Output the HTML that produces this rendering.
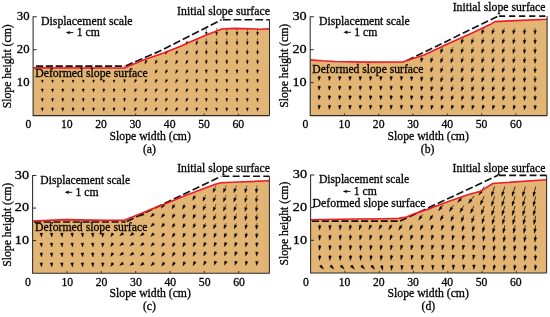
<!DOCTYPE html>
<html><head><meta charset="utf-8"><title>Slope displacement</title>
<style>html,body{margin:0;padding:0;background:#fff}svg{display:block}
text{font-family:"Liberation Serif","Times New Roman",serif;font-size:11.7px;fill:#000;stroke:#000;stroke-width:0.28px}</style></head>
<body><svg width="550" height="317" viewBox="0 0 550 317">
<rect width="550" height="317" fill="#fff"/>
<g><polygon points="33.1,115.6 33.1,67.8 124.2,68 144.1,59.8 163.6,53 180,46.4 190,42.1 207,34.7 221.8,29 234.8,28.4 250,28.8 260.6,29.2 269.5,28.9 269.5,115.6" fill="#e3b574"/>
<g fill="none" stroke="#000" stroke-width="0.45"><path d="M42.3 107.3L42.3 107.9"/><path d="M42.3 97.85L42.3 98.45"/><path d="M42.3 88.4L42.3 89"/><path d="M52.55 107.3L52.55 107.9"/><path d="M52.55 97.85L52.55 98.45"/><path d="M52.55 88.4L52.55 89"/><path d="M62.8 107.3L62.8 107.9"/><path d="M62.8 97.85L62.8 98.45"/><path d="M62.8 88.4L62.8 89"/><path d="M73.05 107.3L73.05 107.9"/><path d="M73.05 97.85L73.05 98.45"/><path d="M73.05 88.4L73.05 89"/><path d="M83.3 107.3L83.3 107.9"/><path d="M83.3 97.85L83.3 98.45"/><path d="M83.3 88.4L83.3 89"/><path d="M93.55 107.3L93.55 107.9"/><path d="M93.55 97.85L93.55 98.45"/><path d="M93.55 88.4L93.55 89"/><path d="M103.8 107.3L103.8 107.9"/><path d="M103.8 97.85L103.8 98.45"/><path d="M103.8 88.4L103.8 89"/><path d="M114.05 107.3L114.05 107.9"/><path d="M114.05 97.85L114.05 98.45"/><path d="M114.05 88.4L114.05 89"/><path d="M124.66 107.17L124.59 107.91"/><path d="M124.66 97.72L124.59 98.46"/><path d="M124.66 88.27L124.59 89.01"/><path d="M136.39 106.99L135.87 108.18"/><path d="M136.39 97.54L135.87 98.73"/><path d="M136.39 88.09L135.87 89.28"/><path d="M136.34 78.76L135.87 79.83"/><path d="M146.93 107.01L146.3 108.26"/><path d="M146.93 97.56L146.3 98.81"/><path d="M146.93 88.11L146.3 89.36"/><path d="M146.93 78.66L146.3 79.91"/><path d="M146.93 59.76L146.3 61.01"/><path d="M157.18 107.01L156.55 108.26"/><path d="M157.18 97.56L156.55 98.81"/><path d="M157.18 88.11L156.55 89.36"/><path d="M157.18 78.66L156.55 79.91"/><path d="M157.18 69.21L156.55 70.46"/><path d="M157.18 59.76L156.55 61.01"/><path d="M167.43 107.01L166.8 108.26"/><path d="M167.43 97.56L166.8 98.81"/><path d="M167.43 88.11L166.8 89.36"/><path d="M167.43 78.66L166.8 79.91"/><path d="M167.43 69.21L166.8 70.46"/><path d="M167.43 59.76L166.8 61.01"/><path d="M167.43 50.31L166.8 51.56"/><path d="M177.68 107.01L177.05 108.26"/><path d="M177.68 97.56L177.05 98.81"/><path d="M177.68 88.11L177.05 89.36"/><path d="M177.68 78.66L177.05 79.91"/><path d="M177.68 69.21L177.05 70.46"/><path d="M177.68 59.76L177.05 61.01"/><path d="M177.68 50.31L177.05 51.56"/><path d="M187.93 107.01L187.3 108.26"/><path d="M187.93 97.56L187.3 98.81"/><path d="M187.93 88.11L187.3 89.36"/><path d="M187.93 78.66L187.3 79.91"/><path d="M187.93 69.21L187.3 70.46"/><path d="M187.93 59.76L187.3 61.01"/><path d="M187.93 50.31L187.3 51.56"/><path d="M187.93 40.86L187.3 42.11"/><path d="M197.21 107.12L196.95 108.03"/><path d="M197.23 97.6L196.95 98.58"/><path d="M197.25 88.09L196.95 89.13"/><path d="M197.27 78.57L196.95 79.68"/><path d="M197.31 68.98L196.95 70.23"/><path d="M197.38 59.28L196.95 60.78"/><path d="M197.46 49.54L196.95 51.33"/><path d="M197.56 39.75L196.95 41.88"/><path d="M206.32 97.99L206.32 98.45"/><path d="M206.32 88.37L206.32 89"/><path d="M206.32 78.75L206.32 79.55"/><path d="M206.32 68.95L206.32 70.1"/><path d="M206.32 58.89L206.32 60.65"/><path d="M206.33 48.7L206.32 51.2"/><path d="M206.33 38.41L206.32 41.75"/><path d="M206.34 28.06L206.32 32.3"/><path d="M216.55 98L216.55 98.45"/><path d="M216.55 88.38L216.55 89"/><path d="M216.55 78.75L216.55 79.55"/><path d="M216.55 68.95L216.55 70.1"/><path d="M216.55 58.88L216.55 60.65"/><path d="M216.55 48.68L216.55 51.2"/><path d="M216.55 38.39L216.55 41.75"/><path d="M216.55 28.03L216.55 32.3"/><path d="M226.8 98L226.8 98.45"/><path d="M226.8 88.38L226.8 89"/><path d="M226.8 78.75L226.8 79.55"/><path d="M226.8 68.95L226.8 70.1"/><path d="M226.8 58.88L226.8 60.65"/><path d="M226.8 48.68L226.8 51.2"/><path d="M226.8 38.39L226.8 41.75"/><path d="M226.8 28.03L226.8 32.3"/><path d="M237.05 98L237.05 98.45"/><path d="M237.05 88.38L237.05 89"/><path d="M237.05 78.75L237.05 79.55"/><path d="M237.05 68.95L237.05 70.1"/><path d="M237.05 58.88L237.05 60.65"/><path d="M237.05 48.68L237.05 51.2"/><path d="M237.05 38.39L237.05 41.75"/><path d="M237.05 28.03L237.05 32.3"/><path d="M247.3 98L247.3 98.45"/><path d="M247.3 88.38L247.3 89"/><path d="M247.3 78.75L247.3 79.55"/><path d="M247.3 68.95L247.3 70.1"/><path d="M247.3 58.88L247.3 60.65"/><path d="M247.3 48.68L247.3 51.2"/><path d="M247.3 38.39L247.3 41.75"/><path d="M247.3 28.03L247.3 32.3"/><path d="M257.55 98L257.55 98.45"/><path d="M257.55 88.38L257.55 89"/><path d="M257.55 78.75L257.55 79.55"/><path d="M257.55 68.95L257.55 70.1"/><path d="M257.55 58.88L257.55 60.65"/><path d="M257.55 48.68L257.55 51.2"/><path d="M257.55 38.39L257.55 41.75"/><path d="M257.55 28.03L257.55 32.3"/></g>
<g fill="#000" stroke="#000" stroke-width="0.3" stroke-linejoin="round"><path d="M42.3 111.2L41.2 107.9L43.4 107.9Z"/><path d="M42.3 101.75L41.2 98.45L43.4 98.45Z"/><path d="M42.3 92.3L41.2 89L43.4 89Z"/><path d="M42.3 82.85L41.3 80.02L43.3 80.02Z"/><path d="M52.55 111.2L51.45 107.9L53.65 107.9Z"/><path d="M52.55 101.75L51.45 98.45L53.65 98.45Z"/><path d="M52.55 92.3L51.45 89L53.65 89Z"/><path d="M52.55 82.85L51.55 80.02L53.55 80.02Z"/><path d="M62.8 111.2L61.7 107.9L63.9 107.9Z"/><path d="M62.8 101.75L61.7 98.45L63.9 98.45Z"/><path d="M62.8 92.3L61.7 89L63.9 89Z"/><path d="M62.8 82.85L61.8 80.02L63.8 80.02Z"/><path d="M73.05 111.2L71.95 107.9L74.15 107.9Z"/><path d="M73.05 101.75L71.95 98.45L74.15 98.45Z"/><path d="M73.05 92.3L71.95 89L74.15 89Z"/><path d="M73.05 82.85L72.05 80.02L74.05 80.02Z"/><path d="M83.3 111.2L82.2 107.9L84.4 107.9Z"/><path d="M83.3 101.75L82.2 98.45L84.4 98.45Z"/><path d="M83.3 92.3L82.2 89L84.4 89Z"/><path d="M83.3 82.85L82.3 80.02L84.3 80.02Z"/><path d="M93.55 111.2L92.45 107.9L94.65 107.9Z"/><path d="M93.55 101.75L92.45 98.45L94.65 98.45Z"/><path d="M93.55 92.3L92.45 89L94.65 89Z"/><path d="M93.55 82.85L92.55 80.02L94.55 80.02Z"/><path d="M103.8 111.2L102.7 107.9L104.9 107.9Z"/><path d="M103.8 101.75L102.7 98.45L104.9 98.45Z"/><path d="M103.8 92.3L102.7 89L104.9 89Z"/><path d="M103.8 82.85L102.8 80.02L104.8 80.02Z"/><path d="M114.05 111.2L112.95 107.9L115.15 107.9Z"/><path d="M114.05 101.75L112.95 98.45L115.15 98.45Z"/><path d="M114.05 92.3L112.95 89L115.15 89Z"/><path d="M114.05 82.85L113.05 80.02L115.05 80.02Z"/><path d="M124.3 111.2L123.5 107.82L125.69 108.01Z"/><path d="M124.3 101.75L123.5 98.37L125.69 98.56Z"/><path d="M124.3 92.3L123.5 88.92L125.69 89.11Z"/><path d="M124.3 82.85L123.51 79.59L125.65 79.78Z"/><path d="M134.55 111.2L134.86 107.74L136.88 108.62Z"/><path d="M134.55 101.75L134.86 98.29L136.88 99.17Z"/><path d="M134.55 92.3L134.86 88.84L136.88 89.72Z"/><path d="M134.55 82.85L134.86 79.39L136.88 80.27Z"/><path d="M144.8 111.2L145.32 107.76L147.28 108.76Z"/><path d="M144.8 101.75L145.32 98.31L147.28 99.31Z"/><path d="M144.8 92.3L145.32 88.86L147.28 89.86Z"/><path d="M144.8 82.85L145.32 79.41L147.28 80.41Z"/><path d="M144.8 63.95L145.32 60.51L147.28 61.51Z"/><path d="M155.05 111.2L155.57 107.76L157.53 108.76Z"/><path d="M155.05 101.75L155.57 98.31L157.53 99.31Z"/><path d="M155.05 92.3L155.57 88.86L157.53 89.86Z"/><path d="M155.05 82.85L155.57 79.41L157.53 80.41Z"/><path d="M155.05 73.4L155.57 69.96L157.53 70.96Z"/><path d="M155.05 63.95L155.57 60.51L157.53 61.51Z"/><path d="M165.3 111.2L165.82 107.76L167.78 108.76Z"/><path d="M165.3 101.75L165.82 98.31L167.78 99.31Z"/><path d="M165.3 92.3L165.82 88.86L167.78 89.86Z"/><path d="M165.3 82.85L165.82 79.41L167.78 80.41Z"/><path d="M165.3 73.4L165.82 69.96L167.78 70.96Z"/><path d="M165.3 63.95L165.82 60.51L167.78 61.51Z"/><path d="M165.3 54.5L165.82 51.06L167.78 52.06Z"/><path d="M175.55 111.2L176.07 107.76L178.03 108.76Z"/><path d="M175.55 101.75L176.07 98.31L178.03 99.31Z"/><path d="M175.55 92.3L176.07 88.86L178.03 89.86Z"/><path d="M175.55 82.85L176.07 79.41L178.03 80.41Z"/><path d="M175.55 73.4L176.07 69.96L178.03 70.96Z"/><path d="M175.55 63.95L176.07 60.51L178.03 61.51Z"/><path d="M175.55 54.5L176.07 51.06L178.03 52.06Z"/><path d="M185.8 111.2L186.32 107.76L188.28 108.76Z"/><path d="M185.8 101.75L186.32 98.31L188.28 99.31Z"/><path d="M185.8 92.3L186.32 88.86L188.28 89.86Z"/><path d="M185.8 82.85L186.32 79.41L188.28 80.41Z"/><path d="M185.8 73.4L186.32 69.96L188.28 70.96Z"/><path d="M185.8 63.95L186.32 60.51L188.28 61.51Z"/><path d="M185.8 54.5L186.32 51.06L188.28 52.06Z"/><path d="M185.8 45.05L186.32 41.61L188.28 42.61Z"/><path d="M196.05 111.2L195.89 107.72L198.01 108.33Z"/><path d="M196.05 101.75L195.89 98.27L198.01 98.88Z"/><path d="M196.05 92.3L195.89 88.82L198.01 89.43Z"/><path d="M196.05 82.85L195.89 79.37L198.01 79.98Z"/><path d="M196.05 73.4L195.89 69.92L198.01 70.53Z"/><path d="M196.05 63.95L195.89 60.47L198.01 61.08Z"/><path d="M196.05 54.5L195.89 51.02L198.01 51.63Z"/><path d="M196.05 45.05L195.89 41.57L198.01 42.18Z"/><path d="M206.3 111.2L205.22 107.89L207.42 107.91Z"/><path d="M206.3 101.75L205.22 98.44L207.42 98.46Z"/><path d="M206.3 92.3L205.22 88.99L207.42 89.01Z"/><path d="M206.3 82.85L205.22 79.54L207.42 79.56Z"/><path d="M206.3 73.4L205.22 70.09L207.42 70.11Z"/><path d="M206.3 63.95L205.22 60.64L207.42 60.66Z"/><path d="M206.3 54.5L205.22 51.19L207.42 51.21Z"/><path d="M206.3 45.05L205.22 41.74L207.42 41.76Z"/><path d="M206.3 35.6L205.22 32.29L207.42 32.31Z"/><path d="M216.55 111.2L215.45 107.9L217.65 107.9Z"/><path d="M216.55 101.75L215.45 98.45L217.65 98.45Z"/><path d="M216.55 92.3L215.45 89L217.65 89Z"/><path d="M216.55 82.85L215.45 79.55L217.65 79.55Z"/><path d="M216.55 73.4L215.45 70.1L217.65 70.1Z"/><path d="M216.55 63.95L215.45 60.65L217.65 60.65Z"/><path d="M216.55 54.5L215.45 51.2L217.65 51.2Z"/><path d="M216.55 45.05L215.45 41.75L217.65 41.75Z"/><path d="M216.55 35.6L215.45 32.3L217.65 32.3Z"/><path d="M226.8 111.2L225.7 107.9L227.9 107.9Z"/><path d="M226.8 101.75L225.7 98.45L227.9 98.45Z"/><path d="M226.8 92.3L225.7 89L227.9 89Z"/><path d="M226.8 82.85L225.7 79.55L227.9 79.55Z"/><path d="M226.8 73.4L225.7 70.1L227.9 70.1Z"/><path d="M226.8 63.95L225.7 60.65L227.9 60.65Z"/><path d="M226.8 54.5L225.7 51.2L227.9 51.2Z"/><path d="M226.8 45.05L225.7 41.75L227.9 41.75Z"/><path d="M226.8 35.6L225.7 32.3L227.9 32.3Z"/><path d="M237.05 111.2L235.95 107.9L238.15 107.9Z"/><path d="M237.05 101.75L235.95 98.45L238.15 98.45Z"/><path d="M237.05 92.3L235.95 89L238.15 89Z"/><path d="M237.05 82.85L235.95 79.55L238.15 79.55Z"/><path d="M237.05 73.4L235.95 70.1L238.15 70.1Z"/><path d="M237.05 63.95L235.95 60.65L238.15 60.65Z"/><path d="M237.05 54.5L235.95 51.2L238.15 51.2Z"/><path d="M237.05 45.05L235.95 41.75L238.15 41.75Z"/><path d="M237.05 35.6L235.95 32.3L238.15 32.3Z"/><path d="M247.3 111.2L246.2 107.9L248.4 107.9Z"/><path d="M247.3 101.75L246.2 98.45L248.4 98.45Z"/><path d="M247.3 92.3L246.2 89L248.4 89Z"/><path d="M247.3 82.85L246.2 79.55L248.4 79.55Z"/><path d="M247.3 73.4L246.2 70.1L248.4 70.1Z"/><path d="M247.3 63.95L246.2 60.65L248.4 60.65Z"/><path d="M247.3 54.5L246.2 51.2L248.4 51.2Z"/><path d="M247.3 45.05L246.2 41.75L248.4 41.75Z"/><path d="M247.3 35.6L246.2 32.3L248.4 32.3Z"/><path d="M257.55 111.2L256.45 107.9L258.65 107.9Z"/><path d="M257.55 101.75L256.45 98.45L258.65 98.45Z"/><path d="M257.55 92.3L256.45 89L258.65 89Z"/><path d="M257.55 82.85L256.45 79.55L258.65 79.55Z"/><path d="M257.55 73.4L256.45 70.1L258.65 70.1Z"/><path d="M257.55 63.95L256.45 60.65L258.65 60.65Z"/><path d="M257.55 54.5L256.45 51.2L258.65 51.2Z"/><path d="M257.55 45.05L256.45 41.75L258.65 41.75Z"/><path d="M257.55 35.6L256.45 32.3L258.65 32.3Z"/></g>
<polyline points="36,66.1 125,66.1" fill="none" stroke="#111" stroke-width="1.65" stroke-dasharray="7.2 2.65"/>
<polyline points="125.6,65.9 160,51 221.5,19.7" fill="none" stroke="#111" stroke-width="1.65" stroke-dasharray="7.6 2.9"/>
<polyline points="222.8,19.7 269.5,19.7" fill="none" stroke="#111" stroke-width="1.65" stroke-dasharray="7.8 3.05"/>
<polyline points="33.1,67.8 124.2,68 144.1,59.8 163.6,53 180,46.4 190,42.1 207,34.7 221.8,29 234.8,28.4 250,28.8 260.6,29.2 269.5,28.9" fill="none" stroke="#ee1c25" stroke-width="1.65" stroke-linejoin="round"/>
<path d="M36.8 16.7H33.1V115.6H269.5M269.5 115.6V19.7" fill="none" stroke="#2b2b2b" stroke-width="1.05"/>
<line x1="33.1" y1="49.67" x2="36.6" y2="49.67" stroke="#2b2b2b" stroke-width="1"/>
<line x1="135.7" y1="115.6" x2="135.7" y2="113.4" stroke="#2b2b2b" stroke-width="0.9"/>
<line x1="204.1" y1="115.6" x2="204.1" y2="113.4" stroke="#2b2b2b" stroke-width="0.9"/>
<line x1="238.3" y1="115.6" x2="238.3" y2="113.4" stroke="#2b2b2b" stroke-width="0.9"/>
<text x="29.5" y="86.03" text-anchor="end" font-size="12.7" textLength="12.7" lengthAdjust="spacingAndGlyphs">10</text>
<text x="29.5" y="53.07" text-anchor="end" font-size="12.7" textLength="12.7" lengthAdjust="spacingAndGlyphs">20</text>
<text x="29.5" y="20.1" text-anchor="end" font-size="12.7" textLength="12.7" lengthAdjust="spacingAndGlyphs">30</text>
<text x="28.4" y="127.9" text-anchor="middle">0</text>
<text x="66.72" y="127.9" text-anchor="middle">10</text>
<text x="101.04" y="127.9" text-anchor="middle">20</text>
<text x="135.36" y="127.9" text-anchor="middle">30</text>
<text x="169.68" y="127.9" text-anchor="middle">40</text>
<text x="204" y="127.9" text-anchor="middle">50</text>
<text x="238.32" y="127.9" text-anchor="middle">60</text>
<text x="150.2" y="140.3" text-anchor="middle" textLength="81.4" lengthAdjust="spacingAndGlyphs">Slope width (cm)</text>
<text x="149.4" y="153" text-anchor="middle">(a)</text>
<text transform="translate(10.7 66.3) rotate(-90)" text-anchor="middle" textLength="84" lengthAdjust="spacingAndGlyphs">Slope height (cm)</text>
<text x="41" y="24.6" textLength="91.6" lengthAdjust="spacingAndGlyphs">Displacement scale</text>
<text x="76.7" y="36">1 cm</text>
<g fill="#000" stroke="#000" stroke-width="0.3"><path d="M73.3 32.6L69.7 32.6" stroke-width="0.95"/><path d="M66.1 32.6L69.7 31.15L69.7 34.05Z"/></g>
<text x="35.2" y="77.4" textLength="112.6" lengthAdjust="spacingAndGlyphs">Deformed slope surface</text>
<text x="269.9" y="14.7" text-anchor="end" textLength="92.8" lengthAdjust="spacingAndGlyphs">Initial slope surface</text></g>
<g><polygon points="310.2,115.6 310.2,59.9 322,60.8 335,61.5 365,62.1 402.5,62 424.1,55 446.8,44.3 469.5,34.3 490,24.6 495,21.6 510,20.9 547.1,19.2 547.1,115.6" fill="#e3b574"/>
<g fill="none" stroke="#000" stroke-width="0.55"><path d="M319.3 104.8L319.25 105.5"/><path d="M319.3 95.2L319.25 95.9"/><path d="M319.3 85.6L319.25 86.3"/><path d="M319.3 76L319.25 76.7"/><path d="M329.58 104.8L329.53 105.5"/><path d="M329.58 95.2L329.53 95.9"/><path d="M329.58 85.6L329.53 86.3"/><path d="M329.58 76L329.53 76.7"/><path d="M339.86 104.8L339.81 105.5"/><path d="M339.86 95.2L339.81 95.9"/><path d="M339.86 85.6L339.81 86.3"/><path d="M339.86 76L339.81 76.7"/><path d="M350.14 104.8L350.09 105.5"/><path d="M350.14 95.2L350.09 95.9"/><path d="M350.14 85.6L350.09 86.3"/><path d="M350.14 76L350.09 76.7"/><path d="M360.42 104.8L360.37 105.5"/><path d="M360.42 95.2L360.37 95.9"/><path d="M360.42 85.6L360.37 86.3"/><path d="M360.42 76L360.37 76.7"/><path d="M370.7 104.8L370.65 105.5"/><path d="M370.7 95.2L370.65 95.9"/><path d="M370.7 85.6L370.65 86.3"/><path d="M370.7 76L370.65 76.7"/><path d="M380.98 104.8L380.93 105.5"/><path d="M380.98 95.2L380.93 95.9"/><path d="M380.98 85.6L380.93 86.3"/><path d="M380.98 76L380.93 76.7"/><path d="M391.26 104.8L391.21 105.5"/><path d="M391.26 95.2L391.21 95.9"/><path d="M391.26 85.6L391.21 86.3"/><path d="M391.26 76L391.21 76.7"/><path d="M401.54 104.8L401.49 105.5"/><path d="M401.54 95.2L401.49 95.9"/><path d="M401.54 85.6L401.49 86.31"/><path d="M401.54 76L401.49 76.71"/><path d="M411.82 104.8L411.74 105.55"/><path d="M411.82 95.2L411.73 96.02"/><path d="M411.82 85.6L411.72 86.52"/><path d="M411.82 76L411.71 76.99"/><path d="M422.1 104.8L421.94 105.65"/><path d="M422.1 95.2L421.91 96.23"/><path d="M422.1 85.6L421.86 86.89"/><path d="M422.1 76L421.82 77.5"/><path d="M422.1 56.8L421.81 58.35"/><path d="M432.38 104.8L432.13 105.74"/><path d="M432.38 95.2L432.05 96.43"/><path d="M432.38 85.6L431.94 87.26"/><path d="M432.38 76L431.85 78"/><path d="M432.38 66.4L431.83 68.49"/><path d="M432.38 56.8L431.83 58.89"/><path d="M442.66 104.8L442.34 105.79"/><path d="M442.66 95.2L442.23 96.56"/><path d="M442.66 85.6L442.06 87.49"/><path d="M442.66 76L441.92 78.32"/><path d="M442.66 66.4L441.89 68.83"/><path d="M442.66 56.8L441.89 59.23"/><path d="M442.66 47.2L441.89 49.63"/><path d="M452.94 104.8L452.62 105.8"/><path d="M452.94 95.2L452.49 96.58"/><path d="M452.94 85.6L452.32 87.52"/><path d="M452.94 76L452.17 78.36"/><path d="M452.94 66.4L452.14 68.87"/><path d="M452.94 56.8L452.14 59.27"/><path d="M452.94 47.2L452.14 49.67"/><path d="M463.22 104.8L462.9 105.8"/><path d="M463.22 95.2L462.77 96.58"/><path d="M463.22 85.6L462.6 87.52"/><path d="M463.22 76L462.45 78.36"/><path d="M463.22 66.4L462.42 68.87"/><path d="M463.22 56.8L462.42 59.27"/><path d="M463.22 47.2L462.42 49.67"/><path d="M463.22 37.6L462.42 40.07"/><path d="M473.5 104.8L473.18 105.8"/><path d="M473.5 95.2L473.05 96.58"/><path d="M473.5 85.6L472.88 87.52"/><path d="M473.5 76L472.73 78.36"/><path d="M473.5 66.4L472.7 68.87"/><path d="M473.5 56.8L472.7 59.27"/><path d="M473.5 47.2L472.7 49.67"/><path d="M473.5 37.6L472.7 40.07"/><path d="M483.78 104.8L483.46 105.8"/><path d="M483.78 95.2L483.33 96.58"/><path d="M483.78 85.6L483.16 87.52"/><path d="M483.78 76L483.01 78.36"/><path d="M483.78 66.4L482.98 68.87"/><path d="M483.78 56.8L482.98 59.27"/><path d="M483.78 47.2L482.98 49.67"/><path d="M483.78 37.6L482.98 40.07"/><path d="M483.78 28L482.98 30.47"/><path d="M494.06 104.8L493.74 105.8"/><path d="M494.06 95.2L493.61 96.58"/><path d="M494.06 85.6L493.44 87.52"/><path d="M494.06 76L493.29 78.36"/><path d="M494.06 66.4L493.26 68.87"/><path d="M494.06 56.8L493.26 59.27"/><path d="M494.06 47.2L493.26 49.67"/><path d="M494.06 37.6L493.26 40.07"/><path d="M494.06 28L493.26 30.47"/><path d="M504.34 104.8L504.02 105.8"/><path d="M504.34 95.2L503.9 96.58"/><path d="M504.34 85.6L503.72 87.52"/><path d="M504.34 76L503.58 78.36"/><path d="M504.34 66.4L503.54 68.88"/><path d="M504.34 56.8L503.54 59.28"/><path d="M504.34 47.2L503.54 49.68"/><path d="M504.34 37.6L503.54 40.08"/><path d="M504.34 28L503.54 30.48"/><path d="M514.62 104.8L514.38 105.82"/><path d="M514.62 95.2L514.29 96.61"/><path d="M514.62 85.6L514.16 87.56"/><path d="M514.62 76L514.05 78.42"/><path d="M514.62 66.4L514.03 68.93"/><path d="M514.62 56.8L514.03 59.33"/><path d="M514.62 47.2L514.03 49.73"/><path d="M514.62 37.6L514.03 40.13"/><path d="M514.62 28L514.03 30.53"/><path d="M524.9 104.8L524.79 105.84"/><path d="M524.9 95.2L524.74 96.64"/><path d="M524.9 85.6L524.68 87.61"/><path d="M524.9 76L524.63 78.47"/><path d="M524.9 66.4L524.62 68.98"/><path d="M524.9 56.8L524.62 59.38"/><path d="M524.9 47.2L524.62 49.78"/><path d="M524.9 37.6L524.62 40.18"/><path d="M524.9 28L524.62 30.58"/><path d="M535.18 104.8L535.14 105.85"/><path d="M535.18 95.2L535.13 96.65"/><path d="M535.18 85.6L535.11 87.62"/><path d="M535.18 76L535.09 78.48"/><path d="M535.18 66.4L535.09 69"/><path d="M535.18 56.8L535.09 59.4"/><path d="M535.18 47.2L535.09 49.8"/><path d="M535.18 37.6L535.09 40.2"/><path d="M535.18 28L535.09 30.6"/></g>
<g fill="#000" stroke="#000" stroke-width="0.3" stroke-linejoin="round"><path d="M318.97 109.49L317.85 105.4L320.65 105.6Z"/><path d="M318.97 99.89L317.85 95.8L320.65 96Z"/><path d="M318.97 90.29L317.85 86.2L320.65 86.4Z"/><path d="M318.97 80.69L317.85 76.6L320.65 76.8Z"/><path d="M329.25 109.49L328.13 105.4L330.93 105.6Z"/><path d="M329.25 99.89L328.13 95.8L330.93 96Z"/><path d="M329.25 90.29L328.13 86.2L330.93 86.4Z"/><path d="M329.25 80.69L328.13 76.6L330.93 76.8Z"/><path d="M339.53 109.49L338.41 105.4L341.21 105.6Z"/><path d="M339.53 99.89L338.41 95.8L341.21 96Z"/><path d="M339.53 90.29L338.41 86.2L341.21 86.4Z"/><path d="M339.53 80.69L338.41 76.6L341.21 76.8Z"/><path d="M349.81 109.49L348.69 105.4L351.49 105.6Z"/><path d="M349.81 99.89L348.69 95.8L351.49 96Z"/><path d="M349.81 90.29L348.69 86.2L351.49 86.4Z"/><path d="M349.81 80.69L348.69 76.6L351.49 76.8Z"/><path d="M360.09 109.49L358.97 105.4L361.77 105.6Z"/><path d="M360.09 99.89L358.97 95.8L361.77 96Z"/><path d="M360.09 90.29L358.97 86.2L361.77 86.4Z"/><path d="M360.09 80.69L358.97 76.6L361.77 76.8Z"/><path d="M370.37 109.49L369.25 105.4L372.05 105.6Z"/><path d="M370.37 99.89L369.25 95.8L372.05 96Z"/><path d="M370.37 90.29L369.25 86.2L372.05 86.4Z"/><path d="M370.37 80.69L369.25 76.6L372.05 76.8Z"/><path d="M380.65 109.49L379.53 105.4L382.33 105.6Z"/><path d="M380.65 99.89L379.53 95.8L382.33 96Z"/><path d="M380.65 90.29L379.53 86.2L382.33 86.4Z"/><path d="M380.65 80.69L379.53 76.6L382.33 76.8Z"/><path d="M390.93 109.49L389.81 105.4L392.61 105.6Z"/><path d="M390.93 99.89L389.81 95.8L392.61 96Z"/><path d="M390.93 90.29L389.81 86.2L392.61 86.4Z"/><path d="M390.93 80.69L389.81 76.6L392.61 76.8Z"/><path d="M401.2 109.49L400.09 105.4L402.89 105.6Z"/><path d="M401.2 99.89L400.09 95.8L402.89 96Z"/><path d="M401.2 90.3L400.09 86.21L402.89 86.41Z"/><path d="M401.2 80.7L400.09 76.61L402.89 76.81Z"/><path d="M411.29 109.53L410.34 105.4L413.13 105.71Z"/><path d="M411.29 100L410.34 95.87L413.12 96.18Z"/><path d="M411.28 90.49L410.33 86.36L413.11 86.67Z"/><path d="M411.27 80.97L410.32 76.84L413.1 77.15Z"/><path d="M421.22 109.58L420.57 105.39L423.32 105.9Z"/><path d="M421.18 100.16L420.53 95.97L423.29 96.48Z"/><path d="M421.14 90.82L420.49 86.63L423.24 87.14Z"/><path d="M421.1 81.43L420.45 77.24L423.2 77.75Z"/><path d="M421.09 62.28L420.44 58.1L423.19 58.61Z"/><path d="M431.11 109.61L430.78 105.38L433.49 106.09Z"/><path d="M431.03 100.3L430.7 96.08L433.41 96.79Z"/><path d="M430.92 91.13L430.59 86.9L433.3 87.61Z"/><path d="M430.83 81.87L430.5 77.65L433.21 78.36Z"/><path d="M430.81 72.36L430.47 68.13L433.18 68.85Z"/><path d="M430.81 62.76L430.47 58.53L433.18 59.25Z"/><path d="M441.13 109.6L441.01 105.37L443.68 106.22Z"/><path d="M441.02 100.37L440.89 96.14L443.56 96.99Z"/><path d="M440.85 91.3L440.73 87.07L443.39 87.91Z"/><path d="M440.71 82.13L440.59 77.9L443.26 78.75Z"/><path d="M440.68 72.64L440.55 68.41L443.22 69.25Z"/><path d="M440.68 63.04L440.55 58.81L443.22 59.65Z"/><path d="M440.68 53.44L440.55 49.21L443.22 50.05Z"/><path d="M451.38 109.6L451.28 105.37L453.95 106.23Z"/><path d="M451.26 100.38L451.16 96.15L453.82 97.01Z"/><path d="M451.08 91.32L450.99 87.09L453.65 87.95Z"/><path d="M450.94 82.17L450.84 77.93L453.5 78.79Z"/><path d="M450.9 72.68L450.81 68.44L453.47 69.31Z"/><path d="M450.9 63.08L450.81 58.84L453.47 59.71Z"/><path d="M450.9 53.48L450.81 49.24L453.47 50.11Z"/><path d="M461.66 109.6L461.56 105.37L464.23 106.23Z"/><path d="M461.54 100.38L461.44 96.15L464.1 97.01Z"/><path d="M461.36 91.32L461.27 87.09L463.93 87.95Z"/><path d="M461.22 82.17L461.12 77.93L463.78 78.79Z"/><path d="M461.18 72.68L461.09 68.44L463.75 69.31Z"/><path d="M461.18 63.08L461.09 58.84L463.75 59.71Z"/><path d="M461.18 53.48L461.09 49.24L463.75 50.11Z"/><path d="M461.18 43.88L461.09 39.64L463.75 40.51Z"/><path d="M471.94 109.6L471.84 105.37L474.51 106.23Z"/><path d="M471.82 100.38L471.72 96.15L474.38 97.01Z"/><path d="M471.64 91.32L471.55 87.09L474.21 87.95Z"/><path d="M471.5 82.17L471.4 77.93L474.06 78.79Z"/><path d="M471.46 72.68L471.37 68.44L474.03 69.31Z"/><path d="M471.46 63.08L471.37 58.84L474.03 59.71Z"/><path d="M471.46 53.48L471.37 49.24L474.03 50.11Z"/><path d="M471.46 43.88L471.37 39.64L474.03 40.51Z"/><path d="M482.22 109.6L482.12 105.37L484.79 106.23Z"/><path d="M482.1 100.38L482 96.15L484.66 97.01Z"/><path d="M481.92 91.32L481.83 87.09L484.49 87.95Z"/><path d="M481.78 82.17L481.68 77.93L484.34 78.79Z"/><path d="M481.74 72.68L481.65 68.44L484.31 69.31Z"/><path d="M481.74 63.08L481.65 58.84L484.31 59.71Z"/><path d="M481.74 53.48L481.65 49.24L484.31 50.11Z"/><path d="M481.74 43.88L481.65 39.64L484.31 40.51Z"/><path d="M481.74 34.28L481.65 30.04L484.31 30.91Z"/><path d="M492.5 109.6L492.4 105.37L495.07 106.23Z"/><path d="M492.38 100.38L492.28 96.15L494.94 97.01Z"/><path d="M492.2 91.32L492.11 87.09L494.77 87.95Z"/><path d="M492.06 82.17L491.96 77.93L494.62 78.79Z"/><path d="M492.02 72.68L491.93 68.44L494.59 69.31Z"/><path d="M492.02 63.08L491.93 58.84L494.59 59.71Z"/><path d="M492.02 53.48L491.93 49.24L494.59 50.11Z"/><path d="M492.02 43.88L491.93 39.64L494.59 40.51Z"/><path d="M492.02 34.28L491.93 30.04L494.59 30.91Z"/><path d="M502.79 109.61L502.69 105.37L505.35 106.23Z"/><path d="M502.67 100.39L502.56 96.15L505.23 97.01Z"/><path d="M502.5 91.33L502.39 87.09L505.06 87.95Z"/><path d="M502.36 82.17L502.25 77.94L504.91 78.79Z"/><path d="M502.32 72.68L502.21 68.45L504.88 69.3Z"/><path d="M502.32 63.08L502.21 58.85L504.88 59.7Z"/><path d="M502.32 53.48L502.21 49.25L504.88 50.1Z"/><path d="M502.32 43.88L502.21 39.65L504.88 40.5Z"/><path d="M502.32 34.28L502.21 30.05L504.88 30.9Z"/><path d="M513.47 109.72L513.02 105.5L515.74 106.14Z"/><path d="M513.38 100.5L512.93 96.29L515.65 96.93Z"/><path d="M513.25 91.46L512.8 87.24L515.52 87.88Z"/><path d="M513.14 82.31L512.69 78.1L515.42 78.74Z"/><path d="M513.11 72.83L512.66 68.61L515.39 69.25Z"/><path d="M513.11 63.23L512.66 59.01L515.39 59.65Z"/><path d="M513.11 53.63L512.66 49.41L515.39 50.05Z"/><path d="M513.11 44.03L512.66 39.81L515.39 40.45Z"/><path d="M513.11 34.43L512.66 30.21L515.39 30.85Z"/><path d="M524.35 109.82L523.39 105.69L526.18 106Z"/><path d="M524.31 100.62L523.35 96.49L526.13 96.79Z"/><path d="M524.25 91.58L523.29 87.45L526.07 87.76Z"/><path d="M524.2 82.44L523.24 78.32L526.02 78.62Z"/><path d="M524.18 72.96L523.23 68.83L526.01 69.14Z"/><path d="M524.18 63.36L523.23 59.23L526.01 59.54Z"/><path d="M524.18 53.76L523.23 49.63L526.01 49.94Z"/><path d="M524.18 44.16L523.23 40.03L526.01 40.34Z"/><path d="M524.18 34.56L523.23 30.43L526.01 30.74Z"/><path d="M535 109.85L533.74 105.8L536.54 105.9Z"/><path d="M534.98 100.65L533.73 96.6L536.53 96.7Z"/><path d="M534.96 91.61L533.71 87.57L536.51 87.67Z"/><path d="M534.95 82.48L533.69 78.43L536.49 78.53Z"/><path d="M534.94 73L533.69 68.95L536.49 69.05Z"/><path d="M534.94 63.4L533.69 59.35L536.49 59.45Z"/><path d="M534.94 53.8L533.69 49.75L536.49 49.85Z"/><path d="M534.94 44.2L533.69 40.15L536.49 40.25Z"/><path d="M534.94 34.6L533.69 30.55L536.49 30.65Z"/></g>
<polyline points="407,60.6 498,16.1" fill="none" stroke="#111" stroke-width="1.65" stroke-dasharray="7.4 2.95"/>
<polyline points="499,16.1 547.1,16.1" fill="none" stroke="#111" stroke-width="1.65" stroke-dasharray="6.2 3.85"/>
<polyline points="310.2,59.9 322,60.8 335,61.5 365,62.1 402.5,62 424.1,55 446.8,44.3 469.5,34.3 490,24.6 495,21.6 510,20.9 547.1,19.2" fill="none" stroke="#ee1c25" stroke-width="1.65" stroke-linejoin="round"/>
<path d="M313.9 16.7H310.2V115.6H547.1M547.1 115.6V16.1" fill="none" stroke="#2b2b2b" stroke-width="1.05"/>
<line x1="310.2" y1="82.63" x2="313.7" y2="82.63" stroke="#2b2b2b" stroke-width="1"/>
<line x1="310.2" y1="49.67" x2="313.7" y2="49.67" stroke="#2b2b2b" stroke-width="1"/>
<line x1="344.48" y1="115.6" x2="344.48" y2="113.4" stroke="#2b2b2b" stroke-width="0.9"/>
<line x1="378.76" y1="115.6" x2="378.76" y2="113.4" stroke="#2b2b2b" stroke-width="0.9"/>
<line x1="413.04" y1="115.6" x2="413.04" y2="113.4" stroke="#2b2b2b" stroke-width="0.9"/>
<line x1="447.32" y1="115.6" x2="447.32" y2="113.4" stroke="#2b2b2b" stroke-width="0.9"/>
<line x1="481.6" y1="115.6" x2="481.6" y2="113.4" stroke="#2b2b2b" stroke-width="0.9"/>
<line x1="515.88" y1="115.6" x2="515.88" y2="113.4" stroke="#2b2b2b" stroke-width="0.9"/>
<text x="306.6" y="86.08" text-anchor="end" font-size="13.5" textLength="14.2" lengthAdjust="spacingAndGlyphs">10</text>
<text x="306.6" y="53.12" text-anchor="end" font-size="13.5" textLength="14.2" lengthAdjust="spacingAndGlyphs">20</text>
<text x="306.6" y="20.15" text-anchor="end" font-size="13.5" textLength="14.2" lengthAdjust="spacingAndGlyphs">30</text>
<text x="305.5" y="128.2" text-anchor="middle">0</text>
<text x="344.4" y="128.2" text-anchor="middle">10</text>
<text x="378.7" y="128.2" text-anchor="middle">20</text>
<text x="413" y="128.2" text-anchor="middle">30</text>
<text x="447.3" y="128.2" text-anchor="middle">40</text>
<text x="481.6" y="128.2" text-anchor="middle">50</text>
<text x="515.9" y="128.2" text-anchor="middle">60</text>
<text x="428.2" y="140.3" text-anchor="middle" textLength="81.4" lengthAdjust="spacingAndGlyphs">Slope width (cm)</text>
<text x="427.6" y="153" text-anchor="middle">(b)</text>
<text transform="translate(287.6 65.8) rotate(-90)" text-anchor="middle" textLength="84" lengthAdjust="spacingAndGlyphs">Slope height (cm)</text>
<text x="319" y="24.5" textLength="90.6" lengthAdjust="spacingAndGlyphs">Displacement scale</text>
<text x="354.3" y="35.7">1 cm</text>
<g fill="#000" stroke="#000" stroke-width="0.3"><path d="M350.9 32.3L347.3 32.3" stroke-width="0.95"/><path d="M343.7 32.3L347.3 30.85L347.3 33.75Z"/></g>
<text x="312.3" y="72.6" textLength="111" lengthAdjust="spacingAndGlyphs">Deformed slope surface</text>
<text x="545.5" y="11.4" text-anchor="end" textLength="92.8" lengthAdjust="spacingAndGlyphs">Initial slope surface</text></g>
<g><polygon points="32.6,273.2 32.6,221 65,219.6 105,220.4 124.5,220.1 128,218.8 144.1,212.2 155,207.8 166.8,203.2 183,196.5 189.5,194 204,188.6 210,186.3 215.2,184.3 221.4,182.8 237.9,182 269.4,180.8 269.4,273.2" fill="#e3b574"/>
<g fill="none" stroke="#000" stroke-width="0.55"><path d="M113.16 262.7L112.87 263.14"/><path d="M113.16 252.8L112.87 253.24"/><path d="M113.16 242.9L112.87 243.34"/><path d="M113.16 233L112.87 233.44"/><path d="M123.44 262.7L122.88 263.11"/><path d="M123.44 252.8L122.88 253.21"/><path d="M123.44 242.9L122.88 243.31"/><path d="M123.44 233L122.88 233.41"/><path d="M133.72 262.7L133.15 263.11"/><path d="M133.72 252.8L133.15 253.21"/><path d="M133.72 242.9L133.15 243.31"/><path d="M133.72 233L133.15 233.41"/><path d="M144 262.64L143.4 263.12"/><path d="M144 252.75L143.4 253.24"/><path d="M144 242.87L143.39 243.37"/><path d="M144 232.99L143.38 233.49"/><path d="M144 213.22L143.33 213.77"/><path d="M154.28 262.41L153.65 263.06"/><path d="M154.28 252.59L153.64 253.25"/><path d="M154.28 242.76L153.62 243.44"/><path d="M154.28 232.94L153.6 233.65"/><path d="M154.28 223.12L153.56 223.86"/><path d="M154.28 213.29L153.49 214.1"/><path d="M164.56 262.08L163.93 262.93"/><path d="M164.56 252.34L163.92 253.22"/><path d="M164.56 242.61L163.9 243.51"/><path d="M164.56 232.87L163.86 233.82"/><path d="M164.56 223.13L163.81 224.15"/><path d="M164.56 213.4L163.73 214.52"/><path d="M164.56 203.66L163.62 204.94"/><path d="M174.84 261.7L174.25 262.73"/><path d="M174.84 252.06L174.24 253.12"/><path d="M174.84 242.42L174.22 243.52"/><path d="M174.84 232.79L174.19 233.94"/><path d="M174.84 223.15L174.14 224.39"/><path d="M174.84 213.52L174.07 214.88"/><path d="M174.84 203.88L173.95 205.44"/><path d="M185.12 261.32L184.57 262.44"/><path d="M185.12 251.79L184.56 252.93"/><path d="M185.12 242.25L184.54 243.43"/><path d="M185.12 232.71L184.51 233.94"/><path d="M185.12 223.17L184.47 224.49"/><path d="M185.12 213.63L184.41 215.08"/><path d="M185.12 204.1L184.32 205.73"/><path d="M195.4 261.01L194.88 262.1"/><path d="M195.4 251.56L194.87 252.67"/><path d="M195.4 242.1L194.84 243.26"/><path d="M195.4 232.65L194.81 233.88"/><path d="M195.4 223.19L194.75 224.54"/><path d="M195.4 213.73L194.68 215.22"/><path d="M195.4 204.28L194.6 205.95"/><path d="M195.4 194.82L194.48 196.73"/><path d="M205.68 260.83L205.28 261.73"/><path d="M205.68 251.42L205.28 252.34"/><path d="M205.68 242.01L205.21 243.09"/><path d="M205.68 232.61L205.08 233.98"/><path d="M205.68 223.2L204.92 224.94"/><path d="M205.68 213.79L204.75 215.91"/><path d="M205.68 204.38L204.61 206.81"/><path d="M205.68 194.98L204.53 197.59"/><path d="M215.96 260.8L215.66 261.55"/><path d="M215.96 251.4L215.65 252.16"/><path d="M215.96 242L215.55 243.01"/><path d="M215.96 232.6L215.35 234.1"/><path d="M215.96 223.2L215.11 225.3"/><path d="M215.96 213.8L214.87 216.49"/><path d="M215.96 204.4L214.69 207.53"/><path d="M215.96 195L214.62 198.31"/><path d="M215.96 185.6L214.62 188.91"/><path d="M226.24 260.8L225.94 261.54"/><path d="M226.24 251.4L225.94 252.15"/><path d="M226.24 242L225.83 243.01"/><path d="M226.24 232.6L225.63 234.11"/><path d="M226.24 223.2L225.39 225.32"/><path d="M226.24 213.8L225.14 216.51"/><path d="M226.24 204.4L224.96 207.56"/><path d="M226.24 195L224.89 198.34"/><path d="M226.24 185.6L224.89 188.94"/><path d="M236.52 260.8L236.24 261.55"/><path d="M236.52 251.4L236.23 252.16"/><path d="M236.52 242L236.13 243.02"/><path d="M236.52 232.6L235.94 234.12"/><path d="M236.52 223.2L235.71 225.33"/><path d="M236.52 213.8L235.48 216.53"/><path d="M236.52 204.4L235.31 207.59"/><path d="M236.52 195L235.24 198.36"/><path d="M236.52 185.6L235.24 188.96"/><path d="M246.8 260.8L246.61 261.58"/><path d="M246.8 251.4L246.61 252.19"/><path d="M246.8 242L246.55 243.06"/><path d="M246.8 232.6L246.42 234.18"/><path d="M246.8 223.2L246.27 225.42"/><path d="M246.8 213.8L246.12 216.64"/><path d="M246.8 204.4L246 207.71"/><path d="M246.8 195L245.96 198.5"/><path d="M246.8 185.6L245.96 189.1"/><path d="M257.08 260.8L256.98 261.59"/><path d="M257.08 251.4L256.98 252.21"/><path d="M257.08 242L256.94 243.08"/><path d="M257.08 232.6L256.87 234.21"/><path d="M257.08 223.2L256.79 225.46"/><path d="M257.08 213.8L256.71 216.7"/><path d="M257.08 204.4L256.65 207.78"/><path d="M257.08 195L256.62 198.57"/><path d="M257.08 185.6L256.62 189.17"/></g>
<g fill="#000" stroke="#000" stroke-width="0.3" stroke-linejoin="round"><path d="M41.64 266.88L39.83 263.05L42.61 262.75Z"/><path d="M41.64 256.98L39.83 253.15L42.61 252.85Z"/><path d="M41.64 247.08L39.83 243.25L42.61 242.95Z"/><path d="M41.64 237.18L39.83 233.35L42.61 233.05Z"/><path d="M51.92 266.88L50.11 263.05L52.89 262.75Z"/><path d="M51.92 256.98L50.11 253.15L52.89 252.85Z"/><path d="M51.92 247.08L50.11 243.25L52.89 242.95Z"/><path d="M51.92 237.18L50.11 233.35L52.89 233.05Z"/><path d="M62.2 266.88L60.39 263.05L63.17 262.75Z"/><path d="M62.2 256.98L60.39 253.15L63.17 252.85Z"/><path d="M62.2 247.08L60.39 243.25L63.17 242.95Z"/><path d="M62.2 237.18L60.39 233.35L63.17 233.05Z"/><path d="M72.48 266.88L70.67 263.05L73.45 262.75Z"/><path d="M72.48 256.98L70.67 253.15L73.45 252.85Z"/><path d="M72.48 247.08L70.67 243.25L73.45 242.95Z"/><path d="M72.48 237.18L70.67 233.35L73.45 233.05Z"/><path d="M82.76 266.88L80.95 263.05L83.73 262.75Z"/><path d="M82.76 256.98L80.95 253.15L83.73 252.85Z"/><path d="M82.76 247.08L80.95 243.25L83.73 242.95Z"/><path d="M82.76 237.18L80.95 233.35L83.73 233.05Z"/><path d="M93.04 266.88L91.23 263.05L94.01 262.75Z"/><path d="M93.04 256.98L91.23 253.15L94.01 252.85Z"/><path d="M93.04 247.08L91.23 243.25L94.01 242.95Z"/><path d="M93.04 237.18L91.23 233.35L94.01 233.05Z"/><path d="M102.51 266.98L101.46 262.87L104.25 263.11Z"/><path d="M102.51 257.08L101.46 252.97L104.25 253.21Z"/><path d="M102.51 247.18L101.46 243.07L104.25 243.31Z"/><path d="M102.51 237.28L101.46 233.17L104.25 233.41Z"/><path d="M110.67 266.48L111.7 262.37L114.04 263.91Z"/><path d="M110.67 256.58L111.7 252.47L114.04 254.01Z"/><path d="M110.67 246.68L111.7 242.57L114.04 244.11Z"/><path d="M110.67 236.78L111.7 232.67L114.04 234.21Z"/><path d="M119.67 265.5L122.05 261.99L123.72 264.24Z"/><path d="M119.67 255.6L122.05 252.09L123.72 254.34Z"/><path d="M119.67 245.7L122.05 242.19L123.72 244.44Z"/><path d="M119.67 235.8L122.05 232.29L123.72 234.54Z"/><path d="M129.92 265.47L132.33 261.98L133.98 264.24Z"/><path d="M129.92 255.57L132.33 252.08L133.98 254.34Z"/><path d="M129.92 245.67L132.33 242.18L133.98 244.44Z"/><path d="M129.92 235.77L132.33 232.28L133.98 234.55Z"/><path d="M140.31 265.66L142.52 262.04L144.29 264.21Z"/><path d="M140.3 255.78L142.51 252.16L144.29 254.33Z"/><path d="M140.3 245.9L142.5 242.28L144.28 244.45Z"/><path d="M140.28 236.03L142.49 232.41L144.27 234.58Z"/><path d="M140.24 216.3L142.45 212.68L144.22 214.85Z"/><path d="M150.87 265.93L152.64 262.09L154.65 264.04Z"/><path d="M150.86 256.12L152.63 252.28L154.64 254.22Z"/><path d="M150.84 246.32L152.62 242.47L154.63 244.42Z"/><path d="M150.81 236.52L152.59 232.67L154.6 234.62Z"/><path d="M150.77 226.74L152.55 222.89L154.56 224.84Z"/><path d="M150.71 216.98L152.49 213.13L154.5 215.08Z"/><path d="M161.56 266.16L162.8 262.1L165.06 263.76Z"/><path d="M161.55 256.44L162.79 252.39L165.05 254.04Z"/><path d="M161.53 246.73L162.77 242.68L165.02 244.34Z"/><path d="M161.49 237.04L162.74 232.99L164.99 234.65Z"/><path d="M161.44 227.37L162.68 223.32L164.94 224.98Z"/><path d="M161.37 217.74L162.61 213.69L164.86 215.35Z"/><path d="M161.25 208.16L162.49 204.11L164.75 205.77Z"/><path d="M172.28 266.21L173.04 262.04L175.47 263.42Z"/><path d="M172.26 256.6L173.02 252.43L175.46 253.81Z"/><path d="M172.24 247L173 242.83L175.44 244.21Z"/><path d="M172.21 237.42L172.97 233.25L175.4 234.63Z"/><path d="M172.16 227.86L172.92 223.69L175.36 225.08Z"/><path d="M172.09 218.36L172.85 214.19L175.28 215.57Z"/><path d="M171.98 208.92L172.74 204.75L175.17 206.13Z"/><path d="M182.81 266.04L183.31 261.83L185.83 263.06Z"/><path d="M182.8 256.52L183.3 252.31L185.82 253.55Z"/><path d="M182.78 247.02L183.28 242.81L185.8 244.04Z"/><path d="M182.75 237.54L183.26 233.33L185.77 234.56Z"/><path d="M182.71 228.08L183.22 223.87L185.73 225.11Z"/><path d="M182.65 218.67L183.16 214.46L185.67 215.69Z"/><path d="M182.56 209.32L183.06 205.11L185.58 206.35Z"/><path d="M193.14 265.71L193.62 261.5L196.14 262.71Z"/><path d="M193.13 256.27L193.61 252.06L196.13 253.27Z"/><path d="M193.11 246.86L193.58 242.65L196.11 243.86Z"/><path d="M193.07 237.49L193.54 233.28L196.07 234.49Z"/><path d="M193.02 228.14L193.49 223.93L196.01 225.14Z"/><path d="M192.95 218.83L193.42 214.62L195.94 215.83Z"/><path d="M192.86 209.55L193.33 205.34L195.86 206.56Z"/><path d="M192.75 200.33L193.22 196.12L195.74 197.33Z"/><path d="M203.67 265.39L204 261.17L206.57 262.3Z"/><path d="M203.67 256L204 251.78L206.56 252.9Z"/><path d="M203.6 246.75L203.93 242.52L206.49 243.65Z"/><path d="M203.47 237.64L203.8 233.41L206.36 234.54Z"/><path d="M203.31 228.6L203.63 224.38L206.2 225.5Z"/><path d="M203.14 219.57L203.47 215.34L206.03 216.47Z"/><path d="M203.01 210.47L203.33 206.25L205.9 207.37Z"/><path d="M202.92 201.25L203.25 197.03L205.81 198.15Z"/><path d="M214.15 265.26L214.36 261.02L216.95 262.07Z"/><path d="M214.15 255.87L214.35 251.63L216.95 252.69Z"/><path d="M214.05 246.72L214.25 242.49L216.85 243.54Z"/><path d="M213.85 237.81L214.05 233.57L216.65 234.63Z"/><path d="M213.61 229.01L213.81 224.77L216.41 225.83Z"/><path d="M213.37 220.19L213.57 215.96L216.17 217.01Z"/><path d="M213.19 211.24L213.39 207L215.99 208.06Z"/><path d="M213.12 202.01L213.32 197.78L215.92 198.83Z"/><path d="M213.11 192.62L213.32 188.39L215.91 189.44Z"/><path d="M224.44 265.25L224.64 261.02L227.24 262.07Z"/><path d="M224.44 255.86L224.64 251.63L227.23 252.68Z"/><path d="M224.33 246.72L224.53 242.48L227.13 243.53Z"/><path d="M224.13 237.81L224.33 233.58L226.93 234.63Z"/><path d="M223.89 229.02L224.09 224.79L226.68 225.84Z"/><path d="M223.65 220.22L223.85 215.99L226.44 217.03Z"/><path d="M223.46 211.27L223.67 207.04L226.26 208.08Z"/><path d="M223.39 202.05L223.59 197.81L226.19 198.86Z"/><path d="M223.39 192.65L223.59 188.41L226.19 189.46Z"/><path d="M234.81 265.29L234.93 261.05L237.54 262.05Z"/><path d="M234.81 255.9L234.92 251.66L237.54 252.66Z"/><path d="M234.71 246.76L234.82 242.52L237.44 243.52Z"/><path d="M234.52 237.86L234.63 233.62L237.25 234.62Z"/><path d="M234.29 229.07L234.4 224.84L237.02 225.83Z"/><path d="M234.06 220.27L234.17 216.03L236.79 217.03Z"/><path d="M233.88 211.32L234 207.09L236.62 208.08Z"/><path d="M233.82 202.1L233.93 197.87L236.55 198.86Z"/><path d="M233.82 192.7L233.93 188.47L236.55 189.46Z"/><path d="M245.68 265.47L245.25 261.25L247.97 261.9Z"/><path d="M245.68 256.08L245.25 251.86L247.97 252.52Z"/><path d="M245.61 246.95L245.18 242.73L247.91 243.38Z"/><path d="M245.49 238.07L245.06 233.85L247.78 234.51Z"/><path d="M245.33 229.31L244.91 225.09L247.63 225.75Z"/><path d="M245.18 220.53L244.76 216.32L247.48 216.97Z"/><path d="M245.07 211.6L244.64 207.39L247.37 208.04Z"/><path d="M245.03 202.39L244.6 198.17L247.32 198.83Z"/><path d="M245.03 192.99L244.6 188.77L247.32 189.43Z"/><path d="M256.47 265.56L255.59 261.42L258.37 261.77Z"/><path d="M256.47 256.17L255.59 252.03L258.37 252.38Z"/><path d="M256.44 247.05L255.55 242.9L258.33 243.26Z"/><path d="M256.37 238.18L255.49 234.03L258.26 234.39Z"/><path d="M256.28 229.43L255.4 225.29L258.18 225.64Z"/><path d="M256.2 220.67L255.32 216.52L258.1 216.88Z"/><path d="M256.14 211.75L255.26 207.6L258.04 207.96Z"/><path d="M256.12 202.54L255.24 198.39L258.01 198.75Z"/><path d="M256.12 193.14L255.24 188.99L258.01 189.35Z"/></g>
<polyline points="34,222 125.6,222" fill="none" stroke="#111" stroke-width="1.65" stroke-dasharray="7.0 2.7"/>
<polyline points="126.8,221.4 221.2,176.2" fill="none" stroke="#111" stroke-width="1.65" stroke-dasharray="7.5 2.92"/>
<polyline points="222.5,176.2 269.4,176.2" fill="none" stroke="#111" stroke-width="1.65" stroke-dasharray="6.9 3.3"/>
<polyline points="32.6,221 65,219.6 105,220.4 124.5,220.1 128,218.8 144.1,212.2 155,207.8 166.8,203.2 183,196.5 189.5,194 204,188.6 210,186.3 215.2,184.3 221.4,182.8 237.9,182 269.4,180.8" fill="none" stroke="#ee1c25" stroke-width="1.65" stroke-linejoin="round"/>
<path d="M36.3 175.5H32.6V273.2H269.4M269.4 273.2V176.2" fill="none" stroke="#2b2b2b" stroke-width="1.05"/>
<line x1="32.6" y1="240.63" x2="36.1" y2="240.63" stroke="#2b2b2b" stroke-width="1"/>
<line x1="32.6" y1="208.07" x2="36.1" y2="208.07" stroke="#2b2b2b" stroke-width="1"/>
<line x1="66.95" y1="273.2" x2="66.95" y2="271" stroke="#2b2b2b" stroke-width="0.9"/>
<line x1="101.3" y1="273.2" x2="101.3" y2="271" stroke="#2b2b2b" stroke-width="0.9"/>
<line x1="135.65" y1="273.2" x2="135.65" y2="271" stroke="#2b2b2b" stroke-width="0.9"/>
<line x1="170" y1="273.2" x2="170" y2="271" stroke="#2b2b2b" stroke-width="0.9"/>
<line x1="204.35" y1="273.2" x2="204.35" y2="271" stroke="#2b2b2b" stroke-width="0.9"/>
<line x1="238.7" y1="273.2" x2="238.7" y2="271" stroke="#2b2b2b" stroke-width="0.9"/>
<text x="29" y="243.83" text-anchor="end" font-size="13.5" textLength="14.2" lengthAdjust="spacingAndGlyphs">10</text>
<text x="29" y="211.27" text-anchor="end" font-size="13.5" textLength="14.2" lengthAdjust="spacingAndGlyphs">20</text>
<text x="29" y="178.7" text-anchor="end" font-size="13.5" textLength="14.2" lengthAdjust="spacingAndGlyphs">30</text>
<text x="27.9" y="286.4" text-anchor="middle">0</text>
<text x="67.25" y="286.4" text-anchor="middle">10</text>
<text x="101.6" y="286.4" text-anchor="middle">20</text>
<text x="135.95" y="286.4" text-anchor="middle">30</text>
<text x="170.3" y="286.4" text-anchor="middle">40</text>
<text x="204.65" y="286.4" text-anchor="middle">50</text>
<text x="239" y="286.4" text-anchor="middle">60</text>
<text x="150.2" y="297.4" text-anchor="middle" textLength="81.4" lengthAdjust="spacingAndGlyphs">Slope width (cm)</text>
<text x="149.4" y="310.2" text-anchor="middle">(c)</text>
<text transform="translate(10.5 224.8) rotate(-90)" text-anchor="middle" textLength="84" lengthAdjust="spacingAndGlyphs">Slope height (cm)</text>
<text x="40.3" y="183.8" textLength="89.8" lengthAdjust="spacingAndGlyphs">Displacement scale</text>
<text x="75.6" y="195.7">1 cm</text>
<g fill="#000" stroke="#000" stroke-width="0.3"><path d="M72.2 192.3L68.6 192.3" stroke-width="0.95"/><path d="M65 192.3L68.6 190.85L68.6 193.75Z"/></g>
<text x="35" y="231.1" textLength="112.4" lengthAdjust="spacingAndGlyphs">Deformed slope surface</text>
<text x="270" y="171.7" text-anchor="end" textLength="92.8" lengthAdjust="spacingAndGlyphs">Initial slope surface</text></g>
<g><polygon points="310.6,273 310.6,219.7 354.6,219 387.3,218.7 398.3,218.4 405,217.4 415,213.6 425,210.2 437,205.7 447,202 457,198.5 467,195 475,192.8 480.5,191.4 487,187.1 492.8,183.5 546.6,179.7 546.6,273" fill="#e3b574"/>
<g fill="none" stroke="#000" stroke-width="0.75"><path d="M319.8 265L320.55 265.8"/><path d="M319.8 254.9L319.74 256"/><path d="M319.8 244.8L319.74 245.9"/><path d="M319.8 234.7L319.74 235.8"/><path d="M319.8 224.6L319.74 225.7"/><path d="M330.08 265L330.83 265.8"/><path d="M330.08 254.9L330.02 256"/><path d="M330.08 244.8L330.02 245.9"/><path d="M330.08 234.7L330.02 235.8"/><path d="M330.08 224.6L330.02 225.7"/><path d="M340.36 265L341.11 265.8"/><path d="M340.36 254.9L340.3 256"/><path d="M340.36 244.8L340.3 245.9"/><path d="M340.36 234.7L340.3 235.8"/><path d="M340.36 224.6L340.3 225.7"/><path d="M350.64 265L351.38 265.81"/><path d="M350.64 254.9L350.57 256"/><path d="M350.64 244.8L350.55 245.9"/><path d="M350.64 234.7L350.53 235.79"/><path d="M350.64 224.6L350.48 225.69"/><path d="M360.92 265L361.65 265.82"/><path d="M360.92 254.9L360.82 256"/><path d="M360.92 244.8L360.78 245.89"/><path d="M360.92 234.7L360.72 235.78"/><path d="M360.92 224.6L360.6 225.65"/><path d="M371.2 265L371.85 265.89"/><path d="M371.2 254.9L371.08 255.99"/><path d="M371.2 244.8L371.02 245.89"/><path d="M371.2 234.7L370.92 235.76"/><path d="M371.2 224.6L370.74 225.6"/><path d="M381.48 265L381.71 266.07"/><path d="M381.48 254.9L381.35 255.98"/><path d="M381.48 244.8L381.29 245.88"/><path d="M381.48 234.7L381.18 235.76"/><path d="M381.48 224.6L380.97 225.6"/><path d="M391.76 265L391.69 265.85"/><path d="M391.76 254.9L391.61 255.8"/><path d="M391.76 244.8L391.54 245.78"/><path d="M391.76 234.7L391.39 235.82"/><path d="M391.76 224.6L391.02 225.93"/><path d="M402.04 265L402 265.58"/><path d="M402.04 254.9L401.89 255.57"/><path d="M402.04 244.8L401.8 245.65"/><path d="M402.04 234.7L401.6 235.86"/><path d="M402.04 224.6L401.06 226.25"/><path d="M412.32 265L412.29 265.51"/><path d="M412.32 254.9L412.19 255.49"/><path d="M412.32 244.8L412.12 245.55"/><path d="M412.32 234.7L411.95 235.74"/><path d="M412.32 224.6L411.54 226.11"/><path d="M422.6 264.98L422.57 265.47"/><path d="M422.6 254.89L422.48 255.45"/><path d="M422.6 244.81L422.43 245.49"/><path d="M422.6 234.72L422.31 235.64"/><path d="M422.6 224.64L422.01 225.96"/><path d="M422.6 214.55L421.24 216.44"/><path d="M432.88 264.92L432.86 265.39"/><path d="M432.88 254.88L432.77 255.39"/><path d="M432.88 244.83L432.73 245.46"/><path d="M432.88 234.79L432.65 235.6"/><path d="M432.88 224.75L432.44 225.89"/><path d="M432.88 214.7L431.91 216.36"/><path d="M432.88 204.66L431.01 206.74"/><path d="M443.16 264.83L443.14 265.28"/><path d="M443.16 254.85L443.06 255.34"/><path d="M443.16 244.87L443.03 245.45"/><path d="M443.16 234.89L442.96 235.67"/><path d="M443.16 224.91L442.78 226.03"/><path d="M443.16 214.93L442.37 216.56"/><path d="M443.16 204.95L441.37 207.14"/><path d="M453.44 264.73L453.42 265.17"/><path d="M453.44 254.82L453.35 255.29"/><path d="M453.44 244.91L453.32 245.45"/><path d="M453.44 235L453.23 235.85"/><path d="M453.44 225.09L453.02 226.48"/><path d="M453.44 215.18L452.61 217.19"/><path d="M453.44 205.27L451.79 207.82"/><path d="M463.72 264.63L463.7 265.07"/><path d="M463.72 254.79L463.63 255.25"/><path d="M463.72 244.95L463.61 245.47"/><path d="M463.72 235.11L463.5 236.08"/><path d="M463.72 225.27L463.24 227.01"/><path d="M463.72 215.42L462.8 217.97"/><path d="M463.72 205.58L462.08 208.67"/><path d="M463.72 195.74L460.68 199.12"/><path d="M474 264.55L473.98 264.98"/><path d="M474 254.77L473.92 255.21"/><path d="M474 244.98L473.9 245.49"/><path d="M474 235.19L473.76 236.26"/><path d="M474 225.41L473.48 227.44"/><path d="M474 215.62L473.02 218.61"/><path d="M474 205.84L472.37 209.38"/><path d="M474 196.05L471.13 199.9"/><path d="M484.28 264.51L484.21 265.33"/><path d="M484.28 254.75L484.14 255.57"/><path d="M484.28 245L484.11 245.95"/><path d="M484.28 235.24L483.96 236.85"/><path d="M484.28 225.49L483.67 228.1"/><path d="M484.28 215.74L483.26 219.34"/><path d="M484.28 205.98L482.78 210.23"/><path d="M484.28 196.23L482.13 200.84"/><path d="M484.28 186.47L481.33 191.24"/><path d="M494.56 264.5L494.34 265.87"/><path d="M494.56 254.75L494.34 256.12"/><path d="M494.56 245L494.3 246.61"/><path d="M494.56 235.25L494.13 237.61"/><path d="M494.56 225.5L493.81 228.87"/><path d="M494.56 215.75L493.38 220.14"/><path d="M494.56 206L492.99 211.2"/><path d="M494.56 196.25L492.84 201.86"/><path d="M494.56 186.5L492.82 192.13"/><path d="M504.84 264.5L504.62 265.88"/><path d="M504.84 254.75L504.62 256.13"/><path d="M504.84 245L504.58 246.63"/><path d="M504.84 235.25L504.41 237.63"/><path d="M504.84 225.5L504.08 228.89"/><path d="M504.84 215.75L503.65 220.16"/><path d="M504.84 206L503.27 211.22"/><path d="M504.84 196.25L503.12 201.88"/><path d="M504.84 186.5L503.12 192.14"/><path d="M515.12 264.5L514.9 265.88"/><path d="M515.12 254.75L514.9 256.13"/><path d="M515.12 245L514.86 246.63"/><path d="M515.12 235.25L514.69 237.63"/><path d="M515.12 225.5L514.36 228.89"/><path d="M515.12 215.75L513.93 220.16"/><path d="M515.12 206L513.55 211.22"/><path d="M515.12 196.25L513.4 201.88"/><path d="M515.12 186.5L513.4 192.14"/><path d="M525.4 264.5L525.21 265.89"/><path d="M525.4 254.75L525.21 256.14"/><path d="M525.4 245L525.18 246.63"/><path d="M525.4 235.25L525.02 237.64"/><path d="M525.4 225.5L524.72 228.9"/><path d="M525.4 215.75L524.31 220.18"/><path d="M525.4 206L523.94 211.26"/><path d="M525.4 196.25L523.8 201.92"/><path d="M525.4 186.5L523.8 192.18"/><path d="M535.68 264.5L535.56 265.89"/><path d="M535.68 254.75L535.56 256.14"/><path d="M535.68 245L535.53 246.64"/><path d="M535.68 235.25L535.41 237.65"/><path d="M535.68 225.5L535.16 228.93"/><path d="M535.68 215.75L534.8 220.23"/><path d="M535.68 206L534.47 211.32"/><path d="M535.68 196.25L534.35 201.99"/><path d="M535.68 186.5L534.35 192.25"/></g>
<g fill="#000" stroke="#000" stroke-width="0.3" stroke-linejoin="round"><path d="M323.69 269.17L319.56 266.73L321.54 264.88Z"/><path d="M319.5 260.59L318.39 255.93L321.09 256.07Z"/><path d="M319.5 250.49L318.39 245.83L321.09 245.97Z"/><path d="M319.5 240.39L318.39 235.73L321.09 235.87Z"/><path d="M319.5 230.29L318.39 225.63L321.09 225.77Z"/><path d="M333.97 269.17L329.84 266.73L331.82 264.88Z"/><path d="M329.78 260.59L328.67 255.93L331.37 256.07Z"/><path d="M329.78 250.49L328.67 245.83L331.37 245.97Z"/><path d="M329.78 240.39L328.67 235.73L331.37 235.87Z"/><path d="M329.78 230.29L328.67 225.63L331.37 225.77Z"/><path d="M344.25 269.17L340.12 266.73L342.1 264.88Z"/><path d="M340.06 260.59L338.95 255.93L341.65 256.07Z"/><path d="M340.06 250.49L338.95 245.83L341.65 245.97Z"/><path d="M340.05 240.39L338.95 235.72L341.65 235.87Z"/><path d="M340.04 230.29L338.95 225.62L341.65 225.77Z"/><path d="M354.49 269.2L350.39 266.72L352.38 264.9Z"/><path d="M350.26 260.59L349.22 255.91L351.91 256.09Z"/><path d="M350.19 250.48L349.21 245.79L351.9 246Z"/><path d="M350.05 240.37L349.18 235.65L351.87 235.93Z"/><path d="M349.81 230.24L349.14 225.49L351.81 225.89Z"/><path d="M364.72 269.25L360.65 266.72L362.66 264.92Z"/><path d="M360.4 260.58L359.48 255.87L362.16 256.12Z"/><path d="M360.22 250.46L359.44 245.73L362.12 246.06Z"/><path d="M359.87 240.3L359.39 235.53L362.05 236.03Z"/><path d="M359.25 230.05L359.31 225.26L361.89 226.05Z"/><path d="M374.55 269.61L370.75 266.68L372.94 265.1Z"/><path d="M370.57 260.56L369.74 255.84L372.42 256.14Z"/><path d="M370.28 250.43L369.69 245.67L372.36 246.1Z"/><path d="M369.76 240.22L369.62 235.42L372.23 236.11Z"/><path d="M368.83 229.78L369.51 225.04L371.97 226.16Z"/><path d="M382.66 270.56L380.39 266.35L383.03 265.78Z"/><path d="M380.8 260.55L380.01 255.82L382.69 256.14Z"/><path d="M380.49 250.41L379.96 245.64L382.62 246.11Z"/><path d="M379.91 240.18L379.88 235.39L382.47 236.13Z"/><path d="M378.89 229.7L379.77 224.99L382.18 226.21Z"/><path d="M391.34 270.44L390.35 265.75L393.04 265.96Z"/><path d="M390.84 260.33L390.28 255.57L392.94 256.02Z"/><path d="M390.53 250.27L390.22 245.48L392.86 246.08Z"/><path d="M389.93 240.19L390.1 235.4L392.67 236.25Z"/><path d="M388.8 229.95L389.84 225.28L392.2 226.58Z"/><path d="M401.69 270.16L400.65 265.48L403.35 265.67Z"/><path d="M400.87 260.05L400.57 255.27L403.21 255.86Z"/><path d="M400.56 250.08L400.5 245.28L403.1 246.01Z"/><path d="M399.95 240.16L400.33 235.38L402.86 236.34Z"/><path d="M398.71 230.2L399.9 225.56L402.22 226.94Z"/><path d="M412.01 270.1L410.94 265.43L413.64 265.59Z"/><path d="M411.17 259.98L410.87 255.19L413.5 255.79Z"/><path d="M410.92 249.99L410.81 245.2L413.42 245.9Z"/><path d="M410.43 240.08L410.68 235.29L413.23 236.19Z"/><path d="M409.42 230.2L410.34 225.49L412.74 226.73Z"/><path d="M422.32 270.06L421.22 265.39L423.92 265.54Z"/><path d="M421.51 259.94L421.16 255.16L423.8 255.73Z"/><path d="M421.31 249.95L421.12 245.16L423.74 245.82Z"/><path d="M420.93 240.03L421.02 235.23L423.6 236.05Z"/><path d="M420.15 230.16L420.78 225.41L423.25 226.5Z"/><path d="M418.55 220.18L420.14 215.65L422.33 217.23Z"/><path d="M432.62 269.98L431.51 265.32L434.2 265.46Z"/><path d="M431.84 259.9L431.45 255.12L434.09 255.67Z"/><path d="M431.68 249.93L431.42 245.15L434.05 245.77Z"/><path d="M431.38 240.03L431.35 235.23L433.95 235.97Z"/><path d="M430.8 230.18L431.18 225.41L433.7 226.37Z"/><path d="M429.59 220.34L430.75 215.68L433.08 217.04Z"/><path d="M427.93 210.16L430 205.84L432.01 207.65Z"/><path d="M442.92 269.88L441.79 265.22L444.49 265.35Z"/><path d="M442.15 259.85L441.74 255.08L444.38 255.61Z"/><path d="M442.03 249.94L441.71 245.15L444.35 245.74Z"/><path d="M441.79 240.12L441.65 235.32L444.26 236.01Z"/><path d="M441.31 230.39L441.5 225.6L444.06 226.46Z"/><path d="M440.37 220.7L441.16 215.97L443.59 217.14Z"/><path d="M438.47 210.71L440.33 206.29L442.42 207.99Z"/><path d="M453.21 269.77L452.07 265.11L454.77 265.23Z"/><path d="M452.46 259.81L452.02 255.03L454.67 255.55Z"/><path d="M452.37 249.95L452 245.17L454.64 245.74Z"/><path d="M452.14 240.32L451.92 235.53L454.54 236.17Z"/><path d="M451.69 230.88L451.73 226.09L454.31 226.87Z"/><path d="M450.85 221.44L451.36 216.67L453.86 217.7Z"/><path d="M449.3 211.69L450.66 207.09L452.93 208.56Z"/><path d="M463.5 269.66L462.35 265.01L465.05 265.13Z"/><path d="M462.76 259.76L462.31 254.99L464.96 255.5Z"/><path d="M462.69 249.98L462.29 245.2L464.93 245.74Z"/><path d="M462.47 240.56L462.18 235.78L464.81 236.38Z"/><path d="M462.02 231.44L461.94 226.65L464.54 227.37Z"/><path d="M461.24 222.3L461.53 217.51L464.07 218.43Z"/><path d="M459.92 212.73L460.89 208.04L463.27 209.3Z"/><path d="M457.6 202.54L459.67 198.22L461.68 200.03Z"/><path d="M473.79 269.58L472.63 264.92L475.33 265.04Z"/><path d="M473.06 259.73L472.59 254.96L475.24 255.46Z"/><path d="M472.99 250L472.57 245.22L475.22 245.75Z"/><path d="M472.77 240.75L472.45 235.97L475.08 236.55Z"/><path d="M472.33 231.9L472.17 227.1L474.78 227.78Z"/><path d="M471.6 222.99L471.74 218.2L474.31 219.03Z"/><path d="M470.45 213.56L471.14 208.82L473.6 209.95Z"/><path d="M468.38 203.59L470.05 199.1L472.21 200.71Z"/><path d="M483.8 269.91L482.86 265.21L485.55 265.44Z"/><path d="M483.34 260.1L482.81 255.34L485.47 255.81Z"/><path d="M483.29 250.48L482.78 245.71L485.44 246.19Z"/><path d="M483.07 241.36L482.64 236.58L485.29 237.11Z"/><path d="M482.63 232.58L482.36 227.79L484.99 228.4Z"/><path d="M482.02 223.77L481.96 218.98L484.56 219.71Z"/><path d="M481.25 214.57L481.51 209.78L484.06 210.68Z"/><path d="M480.2 205.01L480.91 200.27L483.36 201.41Z"/><path d="M478.91 195.15L480.18 190.53L482.48 191.95Z"/><path d="M493.63 270.42L493.01 265.66L495.68 266.08Z"/><path d="M493.62 260.67L493.01 255.91L495.68 256.33Z"/><path d="M493.58 251.16L492.97 246.4L495.64 246.83Z"/><path d="M493.31 242.14L492.8 237.37L495.46 237.86Z"/><path d="M492.8 233.36L492.49 228.58L495.12 229.17Z"/><path d="M492.18 224.59L492.07 219.79L494.68 220.49Z"/><path d="M491.67 215.61L491.7 210.81L494.29 211.59Z"/><path d="M491.48 206.26L491.55 201.46L494.13 202.26Z"/><path d="M491.46 196.52L491.53 191.73L494.11 192.53Z"/><path d="M503.9 270.43L503.29 265.67L505.95 266.09Z"/><path d="M503.9 260.68L503.29 255.92L505.95 256.34Z"/><path d="M503.86 251.17L503.25 246.42L505.91 246.84Z"/><path d="M503.59 242.16L503.08 237.39L505.74 237.87Z"/><path d="M503.08 233.38L502.77 228.59L505.4 229.18Z"/><path d="M502.46 224.6L502.35 219.81L504.96 220.51Z"/><path d="M501.94 215.63L501.98 210.83L504.56 211.61Z"/><path d="M501.77 206.28L501.83 201.49L504.41 202.28Z"/><path d="M501.77 196.54L501.82 191.75L504.41 192.54Z"/><path d="M514.18 270.43L513.57 265.67L516.23 266.09Z"/><path d="M514.18 260.68L513.57 255.92L516.23 256.34Z"/><path d="M514.14 251.17L513.53 246.42L516.19 246.84Z"/><path d="M513.87 242.16L513.36 237.39L516.02 237.87Z"/><path d="M513.36 233.38L513.05 228.59L515.68 229.18Z"/><path d="M512.74 224.6L512.63 219.81L515.24 220.51Z"/><path d="M512.22 215.63L512.26 210.83L514.84 211.61Z"/><path d="M512.05 206.28L512.11 201.49L514.69 202.28Z"/><path d="M512.05 196.54L512.1 191.75L514.69 192.54Z"/><path d="M524.59 270.45L523.87 265.71L526.55 266.07Z"/><path d="M524.59 260.7L523.87 255.96L526.55 256.32Z"/><path d="M524.55 251.19L523.84 246.45L526.51 246.82Z"/><path d="M524.3 242.18L523.69 237.43L526.35 237.85Z"/><path d="M523.81 233.41L523.39 228.64L526.04 229.17Z"/><path d="M523.21 224.65L523 219.86L525.62 220.51Z"/><path d="M522.72 215.69L522.64 210.9L525.25 211.62Z"/><path d="M522.55 206.35L522.5 201.55L525.1 202.28Z"/><path d="M522.55 196.61L522.5 191.81L525.1 192.54Z"/><path d="M535.15 270.48L534.21 265.78L536.9 266.01Z"/><path d="M535.15 260.73L534.21 256.03L536.9 256.26Z"/><path d="M535.12 251.22L534.19 246.52L536.88 246.76Z"/><path d="M534.9 242.22L534.07 237.5L536.75 237.8Z"/><path d="M534.46 233.48L533.82 228.73L536.49 229.14Z"/><path d="M533.91 224.74L533.47 219.97L536.12 220.49Z"/><path d="M533.45 215.8L533.16 211.02L535.79 211.62Z"/><path d="M533.31 206.47L533.03 201.68L535.66 202.29Z"/><path d="M533.31 196.73L533.03 191.94L535.66 192.55Z"/></g>
<polyline points="312,221.1 400,221.1" fill="none" stroke="#111" stroke-width="1.65" stroke-dasharray="7.1 2.72"/>
<polyline points="400,221.1 498,175.3" fill="none" stroke="#111" stroke-width="1.65" stroke-dasharray="7.5 2.89"/>
<polyline points="499,175.3 546.6,175.3" fill="none" stroke="#111" stroke-width="1.65" stroke-dasharray="6.9 3.3"/>
<polyline points="310.6,219.7 354.6,219 387.3,218.7 398.3,218.4 405,217.4 415,213.6 425,210.2 437,205.7 447,202 457,198.5 467,195 475,192.8 480.5,191.4 487,187.1 492.8,183.5 546.6,179.7" fill="none" stroke="#ee1c25" stroke-width="1.65" stroke-linejoin="round"/>
<path d="M314.3 174.9H310.6V273H546.6M546.6 273V175.3" fill="none" stroke="#2b2b2b" stroke-width="1.05"/>
<line x1="310.6" y1="240.3" x2="314.1" y2="240.3" stroke="#2b2b2b" stroke-width="1"/>
<line x1="310.6" y1="207.6" x2="314.1" y2="207.6" stroke="#2b2b2b" stroke-width="1"/>
<line x1="344.9" y1="273" x2="344.9" y2="270.8" stroke="#2b2b2b" stroke-width="0.9"/>
<line x1="379.2" y1="273" x2="379.2" y2="270.8" stroke="#2b2b2b" stroke-width="0.9"/>
<line x1="413.5" y1="273" x2="413.5" y2="270.8" stroke="#2b2b2b" stroke-width="0.9"/>
<line x1="447.8" y1="273" x2="447.8" y2="270.8" stroke="#2b2b2b" stroke-width="0.9"/>
<line x1="482.1" y1="273" x2="482.1" y2="270.8" stroke="#2b2b2b" stroke-width="0.9"/>
<line x1="516.4" y1="273" x2="516.4" y2="270.8" stroke="#2b2b2b" stroke-width="0.9"/>
<text x="307" y="243.7" text-anchor="end" font-size="13.5" textLength="14.2" lengthAdjust="spacingAndGlyphs">10</text>
<text x="307" y="211" text-anchor="end" font-size="13.5" textLength="14.2" lengthAdjust="spacingAndGlyphs">20</text>
<text x="307" y="178.3" text-anchor="end" font-size="13.5" textLength="14.2" lengthAdjust="spacingAndGlyphs">30</text>
<text x="305.9" y="286.2" text-anchor="middle">0</text>
<text x="344.55" y="286.2" text-anchor="middle">10</text>
<text x="378.8" y="286.2" text-anchor="middle">20</text>
<text x="413.05" y="286.2" text-anchor="middle">30</text>
<text x="447.3" y="286.2" text-anchor="middle">40</text>
<text x="481.55" y="286.2" text-anchor="middle">50</text>
<text x="515.8" y="286.2" text-anchor="middle">60</text>
<text x="428.2" y="297.4" text-anchor="middle" textLength="81.4" lengthAdjust="spacingAndGlyphs">Slope width (cm)</text>
<text x="428.4" y="310.4" text-anchor="middle">(d)</text>
<text transform="translate(287.6 223.6) rotate(-90)" text-anchor="middle" textLength="84" lengthAdjust="spacingAndGlyphs">Slope height (cm)</text>
<text x="318.9" y="183" textLength="90.2" lengthAdjust="spacingAndGlyphs">Displacement scale</text>
<text x="353.8" y="194.8">1 cm</text>
<g fill="#000" stroke="#000" stroke-width="0.3"><path d="M350.4 191.4L346.8 191.4" stroke-width="0.95"/><path d="M343.2 191.4L346.8 189.95L346.8 192.85Z"/></g>
<text x="312.5" y="206.5" textLength="113" lengthAdjust="spacingAndGlyphs">Deformed slope surface</text>
<text x="545.4" y="171.8" text-anchor="end" textLength="92.8" lengthAdjust="spacingAndGlyphs">Initial slope surface</text></g>
</svg></body></html>
